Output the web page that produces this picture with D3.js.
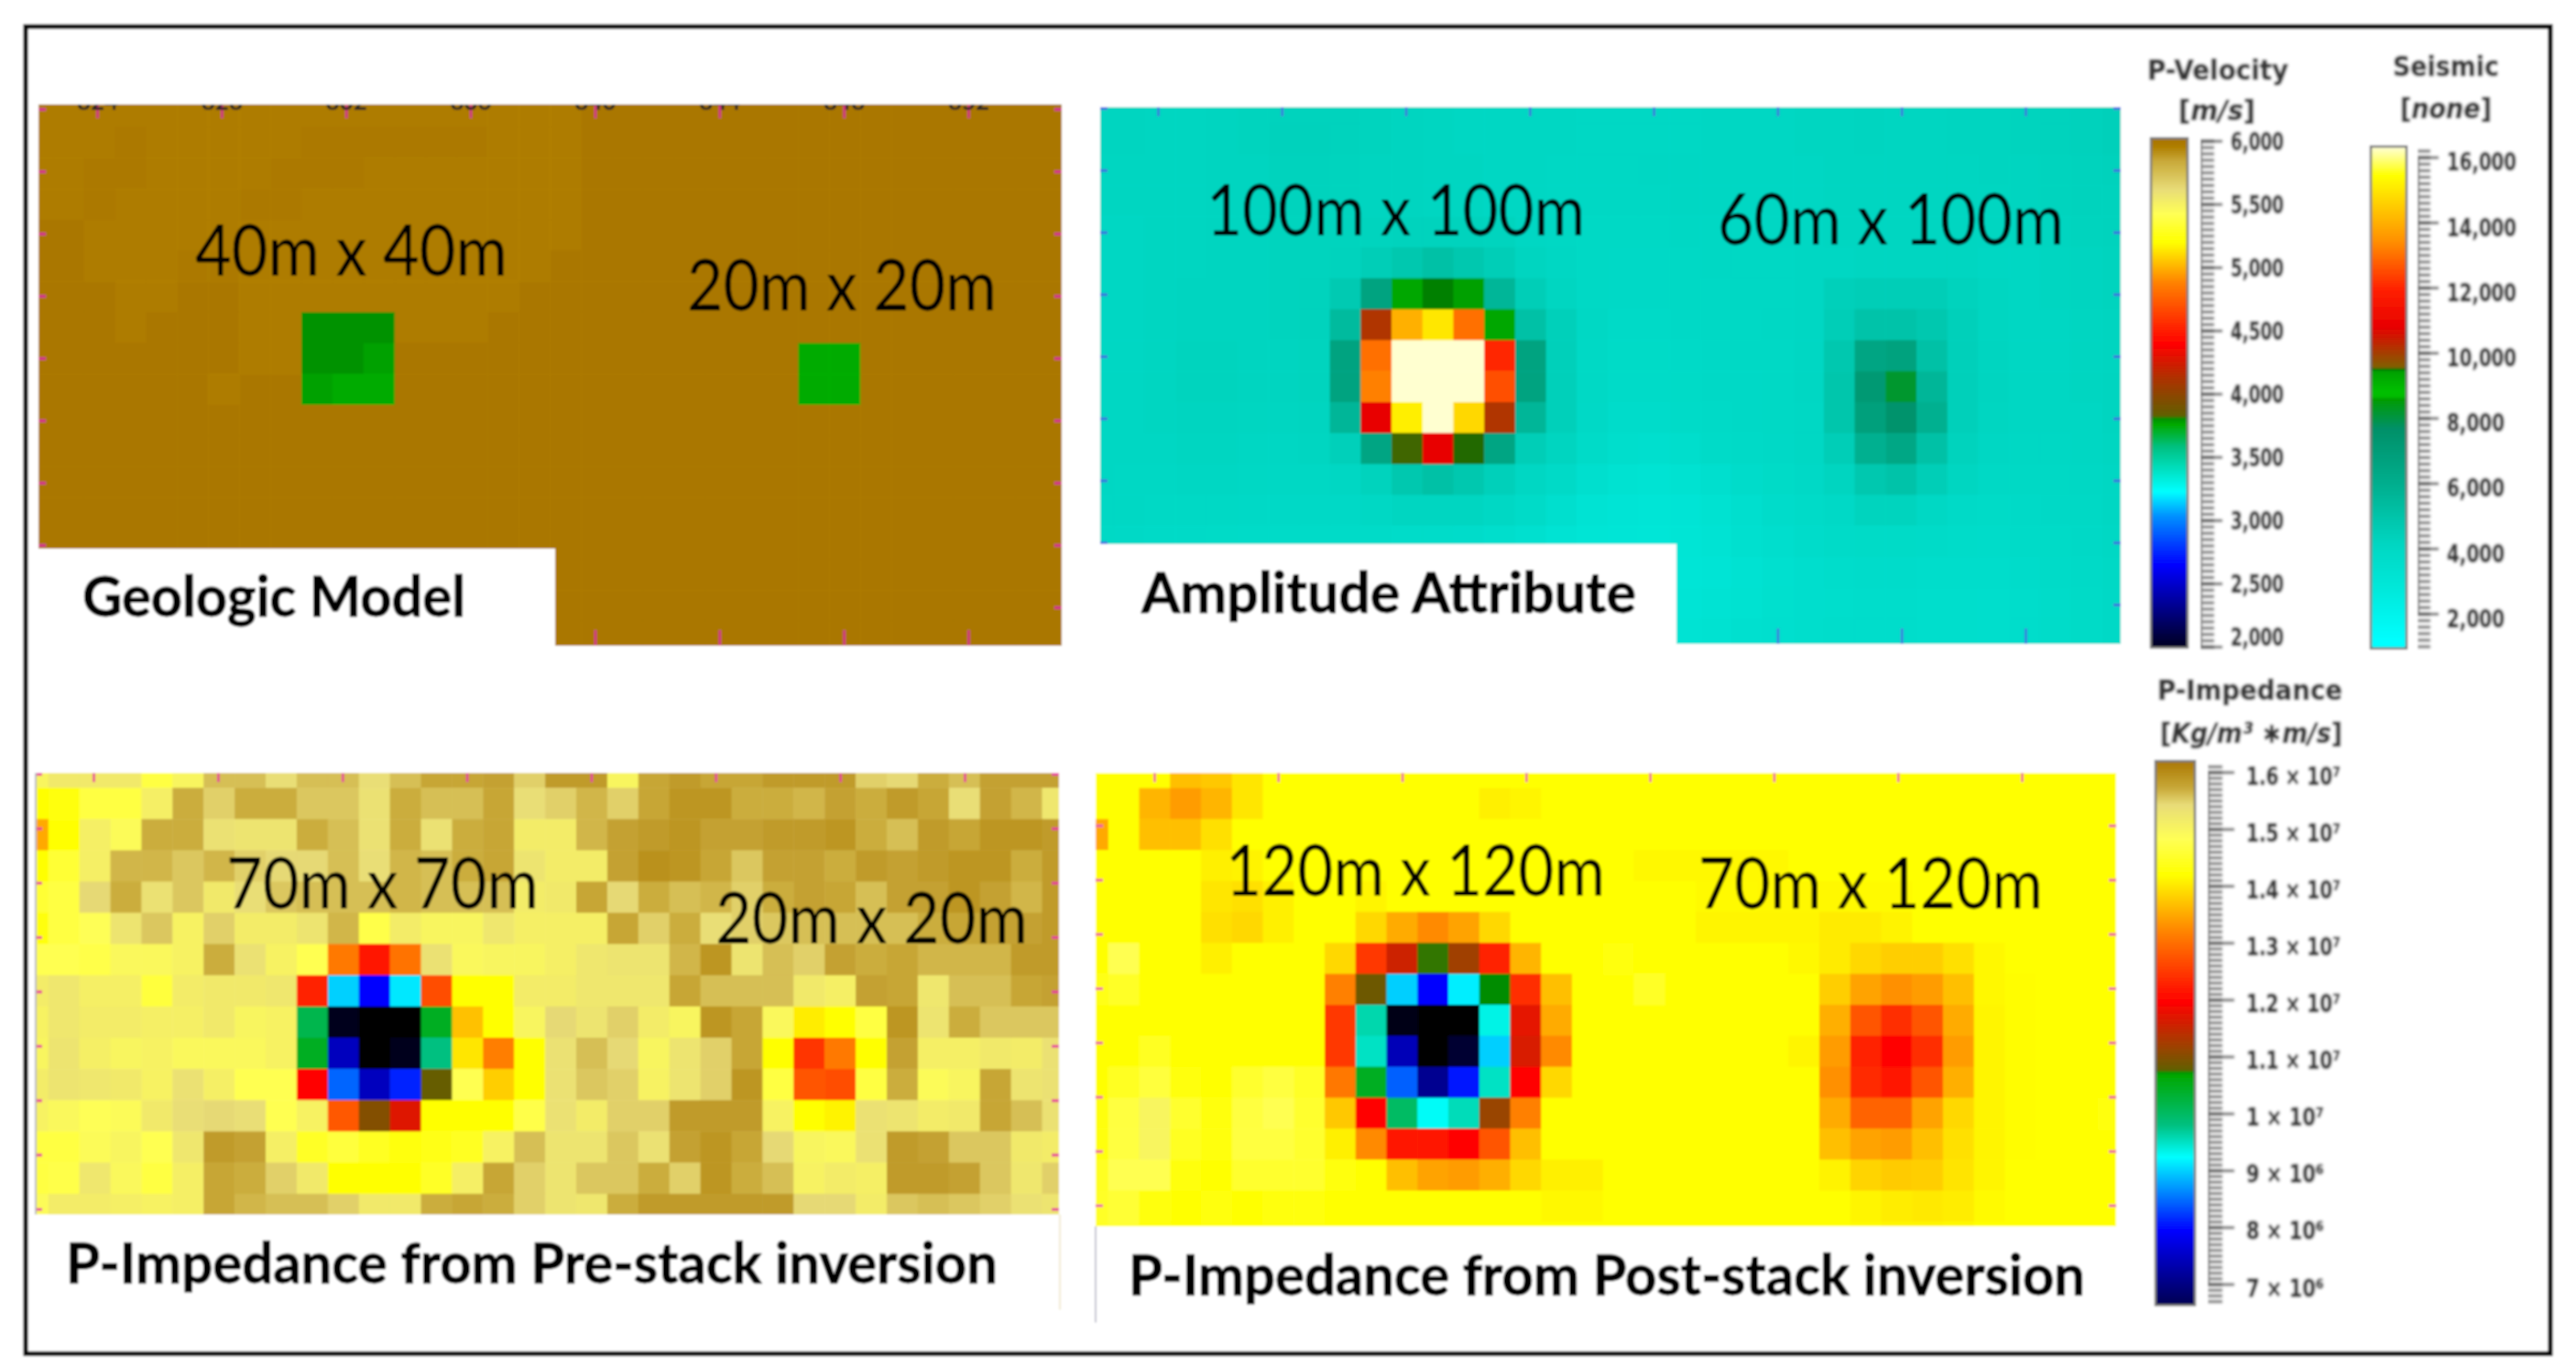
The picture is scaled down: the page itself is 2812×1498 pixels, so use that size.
<!DOCTYPE html>
<html>
<head>
<meta charset="utf-8">
<title>Seismic resolution panels</title>
<script src="https://cdn.jsdelivr.net/npm/d3@7"></script>
<style>
    html, body { margin: 0; padding: 0; background: #fff; }
    svg { display: block; }
    text { font-family: "Lato", "Noto Sans", sans-serif; fill: #000; }
    .legend text { font-family: "DejaVu Sans", sans-serif; font-weight: bold; fill: #333; }
</style>
</head>
<body>
<div id="chart"></div>
<script>
// P-velocity of the geologic model, m/s
const geoRows = [
[5965,5965,5965,5965,5965,5965,5965,5965,5965,5965,5965,5965,5965,5965,5965,5965,5965,5965,6000,6000,6000,6000,6000,6000,6000,6000,6000,6000,6000,6000,6000,6000,6000,6000],
[5965,5965,5965,5985,5965,5965,5965,5965,5965,5985,5985,5985,5985,5985,5985,5965,5965,5965,6000,6000,6000,6000,6000,6000,6000,6000,6000,6000,6000,6000,6000,6000,6000,6000],
[5965,5965,5985,5985,5965,5965,5965,5965,5985,5985,5985,5965,5965,5965,5965,5965,5965,5965,6000,6000,6000,6000,6000,6000,6000,6000,6000,6000,6000,6000,6000,6000,6000,6000],
[5965,5965,5985,5965,5965,5965,5965,5985,5985,5965,5965,5965,5965,5965,5965,5965,5965,5965,6000,6000,6000,6000,6000,6000,6000,6000,6000,6000,6000,6000,6000,6000,6000,6000],
[6000,6000,5965,5965,5965,5965,5965,5965,5965,5965,5965,5965,5965,5965,5965,5965,5965,5965,6000,6000,6000,6000,6000,6000,6000,6000,6000,6000,6000,6000,6000,6000,6000,6000],
[6000,6000,5965,5965,5965,5985,5985,5965,5965,5965,5965,5965,5965,5965,5965,5965,5965,6000,6000,6000,6000,6000,6000,6000,6000,6000,6000,6000,6000,6000,6000,6000,6000,6000],
[6000,6000,6000,5965,5965,6000,6000,5965,5965,5965,5965,5965,5965,5965,5965,5965,6000,6000,6000,6000,6000,6000,6000,6000,6000,6000,6000,6000,6000,6000,6000,6000,6000,6000],
[6000,6000,6000,5965,6000,6000,6000,5965,5965,3800,3800,3800,5965,5965,5965,6000,6000,6000,6000,6000,6000,6000,6000,6000,6000,6000,6000,6000,6000,6000,6000,6000,6000,6000],
[6000,6000,6000,6000,6000,6000,6000,5965,5965,3800,3800,3775,6000,6000,6000,6000,6000,6000,6000,6000,6000,6000,6000,6000,6000,3755,3755,6000,6000,6000,6000,6000,6000,6000],
[6000,6000,6000,6000,6000,6000,5965,6000,6000,3775,3755,3755,6000,6000,6000,6000,6000,6000,6000,6000,6000,6000,6000,6000,6000,3755,3755,6000,6000,6000,6000,6000,6000,6000],
[6000,6000,6000,6000,6000,6000,6000,6000,6000,6000,6000,6000,6000,6000,6000,6000,6000,6000,6000,6000,6000,6000,6000,6000,6000,6000,6000,6000,6000,6000,6000,6000,6000,6000],
[6000,6000,6000,6000,6000,6000,6000,6000,6000,6000,6000,6000,6000,6000,6000,6000,6000,6000,6000,6000,6000,6000,6000,6000,6000,6000,6000,6000,6000,6000,6000,6000,6000,6000],
[6000,6000,6000,6000,6000,6000,6000,6000,6000,6000,6000,6000,6000,6000,6000,6000,6000,6000,6000,6000,6000,6000,6000,6000,6000,6000,6000,6000,6000,6000,6000,6000,6000,6000],
[6000,6000,6000,6000,6000,6000,6000,6000,6000,6000,6000,6000,6000,6000,6000,6000,6000,6000,6000,6000,6000,6000,6000,6000,6000,6000,6000,6000,6000,6000,6000,6000,6000,6000],
[6000,6000,6000,6000,6000,6000,6000,6000,6000,6000,6000,6000,6000,6000,6000,6000,6000,6000,6000,6000,6000,6000,6000,6000,6000,6000,6000,6000,6000,6000,6000,6000,6000,6000],
[6000,6000,6000,6000,6000,6000,6000,6000,6000,6000,6000,6000,6000,6000,6000,6000,6000,6000,6000,6000,6000,6000,6000,6000,6000,6000,6000,6000,6000,6000,6000,6000,6000,6000],
[6000,6000,6000,6000,6000,6000,6000,6000,6000,6000,6000,6000,6000,6000,6000,6000,6000,6000,6000,6000,6000,6000,6000,6000,6000,6000,6000,6000,6000,6000,6000,6000,6000,6000],
[6000,6000,6000,6000,6000,6000,6000,6000,6000,6000,6000,6000,6000,6000,6000,6000,6000,6000,6000,6000,6000,6000,6000,6000,6000,6000,6000,6000,6000,6000,6000,6000,6000,6000]
];

// amplitude attribute, seismic units
const ampRows = [
[4200,4200,4150,4150,4200,4250,4300,4300,4300,4250,4200,4150,4100,4100,4100,4100,4050,4050,4050,4050,4100,4100,4100,4150,4150,4200,4150,4150,4200,4200,4250,4300,4350,4400],
[4200,4200,4150,4150,4200,4250,4350,4350,4300,4250,4200,4150,4100,4100,4100,4100,4050,4050,4050,4050,4100,4100,4100,4150,4150,4200,4150,4150,4200,4200,4250,4300,4350,4400],
[4150,4150,4150,4150,4200,4200,4300,4300,4250,4200,4200,4150,4150,4100,4100,4050,4050,4050,4100,4100,4100,4100,4100,4100,4150,4150,4150,4150,4150,4200,4200,4250,4300,4350],
[4150,4150,4150,4150,4200,4200,4300,4300,4250,4200,4200,4150,4150,4100,4100,4050,4050,4050,4050,4100,4100,4100,4100,4100,4150,4150,4150,4150,4150,4150,4200,4250,4300,4300],
[4100,4100,4150,4150,4200,4200,4250,4250,4250,4250,4300,4300,4300,4250,4100,4050,4000,4000,4000,4050,4050,4050,4100,4100,4150,4150,4150,4150,4150,4150,4150,4200,4250,4300],
[4100,4100,4150,4150,4200,4200,4250,4250,4300,4500,4800,5100,4800,4500,4200,4100,4000,3950,3950,4000,4050,4050,4050,4100,4100,4150,4150,4150,4150,4100,4100,4150,4200,4250],
[4100,4100,4150,4200,4200,4200,4250,4300,4700,6600,9300,9490,9440,5600,4500,4150,4000,3950,3950,4000,4000,4050,4050,4100,4400,4500,4500,4500,4300,4150,4100,4150,4200,4250],
[4100,4100,4150,4200,4200,4200,4250,4300,5400,10135,14016,15000,13010,9300,5100,4400,4050,3900,3900,3950,4000,4000,4050,4100,4500,5000,5000,4800,4400,4150,4100,4100,4150,4200],
[4100,4100,4150,4250,4250,4200,4200,4250,6600,13010,16300,16300,16300,12040,6600,4400,4000,3850,3850,3900,3950,4000,4000,4100,4800,6500,6700,5100,4400,4200,4100,4100,4150,4200],
[4100,4100,4150,4250,4250,4200,4200,4250,6600,13225,16300,16300,16300,12580,6600,4400,4000,3800,3800,3850,3950,3950,4000,4100,4900,7200,8200,5600,4400,4200,4100,4100,4150,4200],
[4100,4100,4150,4200,4200,4150,4150,4200,5600,10810,15150,16300,14730,10135,5600,4400,3950,3700,3700,3800,3900,3950,4000,4050,4900,6800,7500,5900,4400,4150,4100,4100,4100,4200],
[4100,4100,4100,4150,4150,4100,4100,4150,4400,6500,9540,10810,9530,6500,4500,4200,3800,3600,3500,3600,3800,3900,3950,4050,4500,5900,6400,5100,4300,4100,4050,4050,4100,4150],
[4100,4050,4050,4100,4100,4050,4050,4050,4100,4300,4800,5100,4800,4400,4100,3900,3500,3300,3200,3300,3500,3700,3850,3950,4200,4800,5000,4500,4150,4000,4000,4000,4050,4100],
[4050,4050,4000,4000,4000,3950,3950,3950,3950,4050,4150,4150,4150,4050,3800,3500,3200,3100,3000,3100,3300,3500,3700,3800,3950,4250,4250,4050,3900,3850,3900,3950,4000,4100],
[4000,3950,3900,3900,3850,3800,3800,3800,3800,3800,3750,3750,3700,3600,3400,3200,3050,3000,2950,3050,3200,3400,3550,3700,3800,3850,3850,3800,3750,3750,3800,3850,3950,4050],
[3950,3850,3800,3750,3700,3650,3600,3600,3550,3500,3500,3450,3350,3250,3150,3050,3000,2950,2950,3000,3100,3250,3400,3550,3650,3700,3700,3650,3650,3650,3700,3800,3900,4000],
[3900,3800,3700,3600,3550,3500,3450,3400,3350,3300,3250,3200,3150,3100,3050,3050,3050,3050,3050,3100,3200,3300,3450,3550,3600,3650,3650,3600,3600,3600,3650,3750,3850,3950],
[3900,3800,3700,3600,3550,3500,3450,3400,3350,3300,3250,3200,3150,3100,3100,3100,3100,3100,3150,3200,3300,3400,3500,3600,3650,3650,3650,3600,3600,3600,3650,3750,3850,3950]
];

// P-impedance from pre-stack inversion, x 10^6
const preRows = [
[15,15.2,15.2,15.2,14.7,15,15.6,15.6,15.4,15.6,15.6,15.4,15.6,15.75,15.75,15.8,15.5,15.85,15.85,15,15.75,15.85,15.75,15.75,15.85,15.85,15.85,15.5,15.45,15.7,15.6,15.8,15.8,15.8],
[14.2,14.3,14.7,14.7,15.1,15.7,15.5,15.7,15.7,15.55,15.55,15.35,15.7,15.6,15.6,15.75,15.4,15.5,15.65,15.5,15.75,15.9,15.9,15.7,15.7,15.65,15.8,15.7,15.85,15.75,15.4,15.8,15.65,15.25],
[13.5,14.2,15.1,14.9,15.7,15.7,15.35,15.3,15.3,15.7,15.6,15.35,15.7,15.35,15.7,15.75,15.15,15.15,15.65,15.8,15.85,15.9,15.8,15.8,15.85,15.85,15.9,15.7,15.6,15.85,15.75,15.9,15.9,15.85],
[14.2,14.6,15.1,15.65,15.65,15.55,15.65,15.5,15.45,15.45,15.6,15.4,15.65,15.6,15.7,15.75,15.3,15.15,15.15,15.8,15.95,15.9,15.75,15.55,15.8,15.8,15.7,15.85,15.8,15.85,15.9,15.9,15.7,15.85],
[14.6,14.7,15.45,15.7,15.35,15.55,15.2,15.4,15.55,15.6,15.6,15.6,15.65,15.6,15.6,15.6,15.15,15.2,15.75,15.45,15.7,15.6,15.65,15.5,15.7,15.8,15.75,15.6,15.8,15.8,15.9,15.8,15.65,15.85],
[14.3,14.7,14.85,15.3,15.55,15.05,15.5,15.15,15.15,15.3,15.65,14.75,15.15,15,15,15.25,15.1,15.1,15.1,15.75,15.5,15.7,15.4,15.5,15.55,15.6,15.6,15.6,15.6,15.7,15.75,15.8,15.8,15.85],
[14.8,14.8,14.75,14.95,14.95,15.05,15.7,15.35,15.05,14.8,13.1,12.2,13.05,15.35,14.95,15,15,15.1,15.25,15.3,15.3,15.65,15.9,15.3,15.6,15.5,15.8,15.7,15.75,15.65,15.65,15.65,15.85,15.85],
[15.15,15.25,15.1,15.1,14.65,15.15,15.2,15.2,15.25,12.3,9,7.94,9.12,12.7,14.2,14.2,15.15,15.15,15.25,15.25,15.25,15.75,15.6,15.6,15.6,15.2,15.1,15.8,15.75,15.25,15.6,15.6,15.75,15.8],
[15.05,15.25,15.15,15.15,15.1,15.1,15.2,15,15.05,10.15,6.55,6.5,6.5,10.45,13.7,14.2,15,15.45,15.3,15.5,15.15,15,15.9,15.75,14.95,14.05,14.2,14.7,15.9,15.3,15.7,15.55,15.55,15.55],
[15,15.3,15.1,15,15.05,14.95,14.95,14.95,15.05,10.45,7.45,6.5,6.55,9.8,14,13.15,14.2,15.35,15.6,15.45,15,15.3,15.5,15.75,14.2,12.45,13.1,14.2,15.8,15.1,15.1,15.2,15.15,15.35],
[15.15,15.3,15.25,15.2,15.05,15.35,15.1,14.8,14.8,11.96,8.45,7.45,8.1,10.8,14.8,13.8,14.2,15.35,15.55,15.5,15.05,15.3,15.5,15.9,14.7,12.75,12.7,14.7,15.7,14.9,15,15.75,15.3,15.35],
[15.05,14.95,14.85,14.9,15.2,15.4,15.45,15.4,14.8,15.05,12.8,11,11.7,14.2,14.2,14.2,14.75,15.35,15.15,15.5,15.5,15.85,15.85,15.85,15.05,14.2,14.1,15.35,15.3,15.15,15.2,15.75,15.6,15.35],
[14.7,14.7,14.9,15,14.8,15.25,15.85,15.8,15.1,14.5,14.65,14.45,14.25,14.35,14.45,15.05,15.6,15.3,15.3,15.55,15.35,15.8,15.9,15.75,15.45,15,14.95,15.35,15.85,15.8,15.55,15.55,15.2,15.15],
[14.7,14.75,15.25,14.95,14.7,15.1,15.75,15.7,15.5,15.2,14.2,14.2,14.2,14.5,15.1,15.75,15.5,15.3,15.55,15.55,15.7,15.5,15.9,15.7,15.6,15.05,15.15,15.1,15.85,15.85,15.8,15.55,15.25,15.5],
[14.9,15.15,15.15,15.1,15.05,15.1,15.75,15.65,15.6,15.6,15.5,15.2,15.2,15.7,15.75,15.7,15.5,15.3,15.25,15.7,15.85,15.85,15.85,15.85,15.85,15.45,15.45,15.15,15.55,15.6,15.55,15.5,15.35,15.3]
];

// P-impedance from post-stack inversion, x 10^6
const postRows = [
[14.2,14.2,14.2,13.68,13.75,14,14.2,14.2,14.2,14.2,14.2,14.2,14.2,14.2,14.2,14.2,14.2,14.2,14.2,14.2,14.2,14.2,14.2,14.2,14.2,14.2,14.2,14.2,14.2,14.2,14.2,14.2,14.2,14.2],
[14.2,14.2,13.6,13.4,13.6,14,14.2,14.2,14.2,14.2,14.2,14.2,14.2,14.08,14.12,14.2,14.2,14.2,14.2,14.2,14.2,14.2,14.2,14.2,14.2,14.2,14.2,14.2,14.2,14.2,14.2,14.2,14.2,14.2],
[13.5,14.2,13.68,13.68,13.95,14.2,14.2,14.2,14.2,14.2,14.2,14.2,14.2,14.2,14.2,14.2,14.2,14.2,14.2,14.2,14.2,14.2,14.2,14.2,14.2,14.2,14.2,14.2,14.2,14.2,14.2,14.2,14.2,14.2],
[14.2,14.2,14.2,14.2,14.08,14.1,14.2,14.2,14.2,14.2,14.2,14.2,14.2,14.2,14.2,14.2,14.2,14.2,14.14,14.14,14.14,14.14,14.14,14.2,14.2,14.2,14.2,14.2,14.2,14.2,14.2,14.2,14.2,14.2],
[14.2,14.2,14.2,14.2,14,13.95,14.08,14.2,14.2,14.12,14.2,14.2,14.2,14.2,14.2,14.2,14.2,14.2,14.2,14.2,14.16,14.16,14.14,14.14,14.14,14.16,14.16,14.2,14.2,14.2,14.2,14.2,14.2,14.2],
[14.2,14.2,14.2,14.2,13.95,13.88,14.08,14.2,14.2,13.88,13.52,13.25,13.45,13.88,14.2,14.2,14.2,14.2,14.2,14.2,14.12,14.12,14.12,14.12,14.04,14.04,14.1,14.2,14.2,14.2,14.2,14.2,14.2,14.2],
[14.2,14.8,14.2,14.2,14.08,14.2,14.2,14.2,13.88,12.5,11.55,10.75,11.2,12.3,13.6,14.2,14.2,14.3,14.2,14.2,14.2,14.2,14.2,14.14,14.04,13.88,13.8,13.8,13.95,14.14,14.2,14.2,14.2,14.2],
[14.35,14.5,14.2,14.2,14.2,14.2,14.2,14.2,13.17,10.85,8.99,7.94,9.15,10.74,12.4,13.68,14.2,14.2,14.5,14.2,14.2,14.2,14.2,14.2,13.8,13.45,13.3,13.4,13.68,14.14,14.18,14.2,14.2,14.2],
[14.2,14.2,14.2,14.2,14.2,14.2,14.2,14.2,12.5,9.6,6.53,6.5,6.5,9.35,11.75,13.52,14.2,14.2,14.2,14.2,14.2,14.2,14.2,14.2,13.55,12.76,12.4,12.76,13.52,14.12,14.18,14.2,14.2,14.2],
[14.2,14.2,14.44,14.2,14.2,14.2,14.2,14.2,12.5,9.5,7.4,6.5,6.58,8.99,11.65,13.25,14.2,14.2,14.2,14.2,14.2,14.2,14.2,14.12,13.4,12.3,11.96,12.4,13.4,14.12,14.18,14.2,14.2,14.2],
[14.2,14.44,14.65,14.3,14.2,14.55,14.67,14.5,13.09,10.45,8.43,7.11,8.05,9.5,11.96,13.88,14.2,14.2,14.2,14.2,14.2,14.2,14.2,14.2,13.3,12.37,12.15,12.76,13.55,14.12,14.18,14.2,14.2,14.2],
[14.3,14.67,15,14.55,14.32,14.67,14.8,14.55,13.75,11.96,10,9.27,9.55,11.15,13.17,14.2,14.2,14.2,14.2,14.2,14.2,14.2,14.2,14.2,13.52,12.9,12.9,13.45,13.88,14.12,14.18,14.2,14.2,14.3],
[14.3,14.67,15,14.44,14.32,14.67,14.67,14.55,14.08,13.25,12.15,12.15,11.96,12.76,13.68,14.2,14.2,14.2,14.2,14.2,14.2,14.2,14.2,14.2,13.68,13.45,13.4,13.68,13.95,14.12,14.18,14.2,14.2,14.2],
[14.44,14.8,14.8,14.32,14.2,14.55,14.55,14.55,14.32,14.2,13.68,13.45,13.4,13.55,13.88,14.08,14.08,14.2,14.2,14.2,14.2,14.2,14.2,14.2,14.1,13.85,13.78,13.8,13.98,14.12,14.2,14.2,14.2,14.2],
[14.5,14.6,14.3,14.2,14.3,14.2,14.32,14.32,14.2,14.2,14.2,14.2,14.2,14.2,14.2,14.14,14.14,14.2,14.2,14.2,14.2,14.2,14.2,14.2,14.2,14.12,14.05,14.02,14.05,14.16,14.2,14.2,14.2,14.2],
[14.5,14.6,14.3,14.2,14.3,14.2,14.32,14.32,14.2,14.2,14.2,14.2,14.2,14.2,14.2,14.2,14.2,14.2,14.2,14.2,14.2,14.2,14.2,14.2,14.2,14.16,14.12,14.12,14.14,14.2,14.2,14.2,14.2,14.2]
];

// colour bars
const velStops = [2000,2646,3034,3228,3584,3760,3810,3826,4133,4391,4876,5199,5425,5619,5845,5960,6000];
const velColors = ["#000020","#0000ff","#0090ff","#00ffff","#00c080","#00aa00","#008c00","#606000","#b03000","#ff0000","#ff8000","#ffff00","#ffff55","#e8dc78","#c8a838","#ae7d00","#aa7700"];
const seisStops = [930,1160,2790,4050,5900,7690,8600,8640,8800,9440,9520,9560,10810,11940,13440,15440,16300];
const seisColors = ["#00ffff","#00ffff","#00e8da","#00d8c4","#00b090","#009068","#009c00","#00b800","#00c000","#00a000","#006c00","#806000","#e80000","#ff2000","#ff9000","#ffff00","#ffffd0"];
const impStops = [6.5,6.63,7.94,8.75,9.24,9.8,10.68,10.74,10.76,11.2,11.96,13.17,14.2,14.83,15.43,15.73,16.2];
const impColors = ["#000000","#000050","#0000ff","#00a0ff","#00ffff","#00c080","#00a800","#008c00","#606000","#a04000","#ff0000","#ff8000","#ffff00","#ffff55","#e8dc78","#c8a838","#aa7700"];

const velTicks = [2000,2500,3000,3500,4000,4500,5000,5500,6000];
const seisTicks = [2000,4000,6000,8000,10000,12000,14000,16000];
const impTicks = [7,8,9,10,11,12,13,14,15,16];
const impTickLabels = ["7 × 10⁶","8 × 10⁶","9 × 10⁶","1 × 10⁷","1.1 × 10⁷","1.2 × 10⁷","1.3 × 10⁷","1.4 × 10⁷","1.5 × 10⁷","1.6 × 10⁷"];
const inlineTicks = [824,828,832,836,840,844,848,852];
const xlineTicks = [0,1,2,3,4,5,6,7,8];

const velColor = d3.scaleLinear().domain(velStops).range(velColors).clamp(true);
const seisColor = d3.scaleLinear().domain(seisStops).range(seisColors).clamp(true);
const impColor = d3.scaleLinear().domain(impStops).range(impColors).clamp(true);

const svg = d3.select("#chart").append("svg")
    .attr("width", 2812)
    .attr("height", 1498);

// the source is a resampled picture, everything is a little soft
const defs = svg.append("defs");
[["soft", 0.9], ["softer", 1.3]].forEach(([id, amount]) => {
    defs.append("filter").attr("id", id)
        .attr("x", 0).attr("y", 0).attr("width", 2812).attr("height", 1498)
        .attr("filterUnits", "userSpaceOnUse")
        .append("feGaussianBlur").attr("stdDeviation", amount);
});

svg.append("rect").attr("width", 2812).attr("height", 1498).attr("fill", "#fff");
const root = svg.append("g").attr("filter", "url(#soft)");
root.append("rect").attr("width", 2812).attr("height", 1498).attr("fill", "#fff");

const panels = [
    { id: "geo", rows: geoRows, color: velColor,
      x0: 42, x1: 1159, y0: 114, y1: 705, cx: 23.9, cw: 33.9, cy: 105, ch: 33.7,
      tick: "#d8288c", tx: [106, 1057], ty: [119, 663], topLen: 15, labels: true,
      bottom: true, cut: [606, 599],
      notes: [["40m x 40m", 213, 301, 341], ["20m x 20m", 750, 339, 338]],
      title: ["Geologic Model", 90, 673, 418] },
    { id: "amp", rows: ampRows, color: seisColor,
      x0: 1201, x1: 2315, y0: 117, y1: 703, cx: 1182.1, cw: 33.7, cy: 101, ch: 33.8,
      tick: "#3a70e0", tx: [1264, 2211], ty: [118, 660], topLen: 10, labels: false,
      bottom: true, cut: [1830, 594],
      notes: [["100m x 100m", 1317, 257, 413], ["60m x 100m", 1875, 267, 378]],
      title: ["Amplitude Attribute", 1246, 669, 540] },
    { id: "pre", rows: preRows, color: impColor,
      x0: 38, x1: 1156, y0: 844, y1: 1326, cx: 18.8, cw: 33.9, cy: 826.1, ch: 34.1,
      tick: "#e8389c", tx: [102, 1053], ty: [845, 1320], topLen: 10, labels: false,
      bottom: false, cut: null,
      notes: [["70m x 70m", 247, 992, 341], ["20m x 20m", 781, 1030, 341]],
      title: ["P-Impedance from Pre-stack inversion", 72, 1401, 1017] },
    { id: "post", rows: postRows, color: impColor,
      x0: 1196, x1: 2310, y0: 844, y1: 1339, cx: 1176, cw: 33.75, cy: 826.7, ch: 33.8,
      tick: "#ee5aa8", tx: [1260, 2207], ty: [842, 1316], topLen: 10, labels: false,
      bottom: false, cut: null,
      notes: [["120m x 120m", 1338, 978, 414], ["70m x 120m", 1854, 992, 376]],
      title: ["P-Impedance from Post-stack inversion", 1232, 1414, 1044] }
];

panels.forEach(p => {
    defs.append("clipPath").attr("id", "clip-" + p.id).append("rect")
        .attr("x", p.x0).attr("y", p.y0)
        .attr("width", p.x1 - p.x0).attr("height", p.y1 - p.y0);

    const g = root.append("g").attr("clip-path", `url(#clip-${p.id})`);

    const xCell = d3.scaleLinear().domain([0, 1]).range([p.cx, p.cx + p.cw]);
    const yCell = d3.scaleLinear().domain([0, 1]).range([p.cy, p.cy + p.ch]);

    const cells = p.rows.flatMap((row, r) => row.map((v, c) => ({ r, c, v })));
    g.selectAll("rect.cell")
        .data(cells)
        .enter()
        .append("rect")
        .attr("class", "cell")
        .attr("x", d => xCell(d.c))
        .attr("y", d => yCell(d.r))
        .attr("width", xCell(1) - xCell(0) + 0.5)
        .attr("height", yCell(1) - yCell(0) + 0.5)
        .attr("fill", d => p.color(d.v));

    // survey ticks
    const xTick = d3.scaleLinear().domain([824, 852]).range(p.tx);
    const yTick = d3.scaleLinear().domain([0, 8]).range(p.ty);

    const top = g.append("g").attr("transform", `translate(0,${p.y0})`)
        .call(d3.axisBottom(xTick).tickValues(inlineTicks).tickSize(p.topLen)
            .tickFormat(p.labels ? d3.format("d") : ""));
    top.select(".domain").remove();
    top.selectAll("line").attr("stroke", p.tick).attr("stroke-width", 2.5);
    // the labels sit above the crop, only their feet show
    top.selectAll("text").attr("y", 6).attr("dy", 0)
        .style("font-size", "26px").style("font-weight", 700).style("fill", "#222");

    if (p.bottom) {
        const bottom = g.append("g").attr("transform", `translate(0,${p.y1})`)
            .call(d3.axisTop(xTick).tickValues(inlineTicks).tickSize(17).tickFormat(""));
        bottom.select(".domain").remove();
        bottom.selectAll("line").attr("stroke", p.tick).attr("stroke-width", 2.5);
    }

    [[p.x0, d3.axisRight], [p.x1, d3.axisLeft]].forEach(([x, axis]) => {
        const side = g.append("g").attr("transform", `translate(${x},0)`)
            .call(axis(yTick).tickValues(xlineTicks).tickSize(8).tickFormat(""));
        side.select(".domain").remove();
        side.selectAll("line").attr("stroke", p.tick).attr("stroke-width", 3);
    });

    // white title box
    if (p.cut) {
        root.append("rect")
            .attr("x", p.x0 - 2).attr("y", p.cut[1])
            .attr("width", p.cut[0] - p.x0 + 2).attr("height", p.y1 - p.cut[1] + 2)
            .attr("fill", "#fff");
    }

    p.notes.forEach(n => {
        root.append("text")
            .attr("x", n[1]).attr("y", n[2])
            .attr("textLength", n[3]).attr("lengthAdjust", "spacingAndGlyphs")
            .style("font-size", "78px")
            .text(n[0]);
    });

    root.append("text")
        .attr("x", p.title[1]).attr("y", p.title[2])
        .attr("textLength", p.title[3]).attr("lengthAdjust", "spacingAndGlyphs")
        .style("font-size", "62px").style("font-weight", 700)
        .style("stroke", "#000").style("stroke-width", 0.8)
        .text(p.title[0]);
});

// thin leftovers of the pasted images
root.append("line").attr("x1", 1196).attr("x2", 1196).attr("y1", 1339).attr("y2", 1444)
    .attr("stroke", "#c4c4d0").attr("stroke-width", 2);
root.append("line").attr("x1", 1157).attr("x2", 1157).attr("y1", 1326).attr("y2", 1430)
    .attr("stroke", "#f2ead2").attr("stroke-width", 2);
root.append("line").attr("x1", 39).attr("x2", 39).attr("y1", 844).attr("y2", 1326)
    .attr("stroke", "#b8b8bc").attr("stroke-width", 2);

// colour bars
function drawLegend(o) {
    const g = root.append("g").attr("class", "legend");
    const y = d3.scaleLinear().domain(o.domain).range(o.range);

    const barTop = o.bar[2], barBottom = o.bar[3];
    g.selectAll("rect.strip")
        .data(d3.range(barTop, barBottom))
        .enter()
        .append("rect")
        .attr("class", "strip")
        .attr("x", o.bar[0])
        .attr("y", d => d)
        .attr("width", o.bar[1] - o.bar[0])
        .attr("height", 1.5)
        .attr("fill", d => o.color(y.invert(d)));
    g.append("rect")
        .attr("x", o.bar[0]).attr("y", barTop)
        .attr("width", o.bar[1] - o.bar[0]).attr("height", barBottom - barTop)
        .attr("fill", "none").attr("stroke", "#7a7a7a").attr("stroke-width", 2.5);

    const minor = g.append("g").attr("transform", `translate(${o.axisX},0)`)
        .attr("filter", "url(#softer)")
        .call(d3.axisRight(y).tickValues(o.minor).tickSize(o.minorLen).tickFormat(""));
    minor.select(".domain").remove();
    minor.selectAll("line").attr("stroke", "#777").attr("stroke-width", 3);

    const major = g.append("g").attr("transform", `translate(${o.axisX},0)`)
        .attr("filter", "url(#softer)")
        .call(d3.axisRight(y).tickValues(o.ticks).tickSize(o.majorLen).tickSizeOuter(0).tickPadding(o.pad).tickFormat(o.format));
    major.select(".domain").attr("stroke", "#8c8c8c").attr("stroke-width", 3);
    major.selectAll("line").attr("stroke", "#666").attr("stroke-width", 2.6);
    major.selectAll("text")
        .attr("dy", d => o.dy(d))
        .attr("textLength", d => o.labelWidth(o.format(d)))
        .attr("lengthAdjust", "spacingAndGlyphs")
        .style("font-size", "26px");

    o.heads.forEach(h => {
        const t = g.append("text").attr("x", h.x).attr("y", h.y)
            .attr("filter", "url(#softer)")
            .attr("textLength", h.w).attr("lengthAdjust", "spacingAndGlyphs")
            .style("font-size", "31px");
        h.parts.forEach(part => {
            t.append("tspan").style("font-style", part[1] ? "italic" : "normal").text(part[0]);
        });
    });
}

drawLegend({
    color: velColor, domain: [2000, 6000], range: [706, 153.7], bar: [2348, 2388, 151, 707],
    axisX: 2402, minorLen: 15, majorLen: 24, pad: 9,
    ticks: velTicks, minor: d3.range(2000, 6001, 50),
    format: d3.format(","),
    dy: d => d === 2000 ? "-0.05em" : "0.38em",
    labelWidth: () => 58,
    heads: [
        { x: 2344, y: 87, w: 154, parts: [["P-Velocity", false]] },
        { x: 2378, y: 131, w: 84, parts: [["[", false], ["m/s", true], ["]", false]] }
    ]
});

drawLegend({
    color: seisColor, domain: [2000, 16000], range: [670, 171.6], bar: [2588, 2627, 160, 708],
    axisX: 2639, minorLen: 14, majorLen: 23, pad: 9,
    ticks: seisTicks, minor: d3.range(1000, 16300, 200),
    format: d3.format(","),
    dy: () => "0.55em",
    labelWidth: s => s.length > 5 ? 76 : 63,
    heads: [
        { x: 2612, y: 83, w: 116, parts: [["Seismic", false]] },
        { x: 2620, y: 129, w: 100, parts: [["[", false], ["none", true], ["]", false]] }
    ]
});

drawLegend({
    color: impColor, domain: [7, 16], range: [1402, 843], bar: [2353, 2396, 831, 1425],
    axisX: 2410, minorLen: 16, majorLen: 29, pad: 13,
    ticks: impTicks, minor: d3.range(6.7, 16.2, 0.1),
    format: d => impTickLabels[impTicks.indexOf(d)],
    dy: () => "0.5em",
    labelWidth: s => s.length > 7 ? 103 : 85,
    heads: [
        { x: 2355, y: 764, w: 202, parts: [["P-Impedance", false]] },
        { x: 2358, y: 811, w: 199, parts: [["[", false], ["Kg/m³ ∗m/s", true], ["]", false]] }
    ]
});

// figure frame
root.append("rect")
    .attr("x", 28).attr("y", 29).attr("width", 2756).attr("height", 1449)
    .attr("fill", "none").attr("stroke", "#000").attr("stroke-width", 5);
</script>
</body>
</html>
